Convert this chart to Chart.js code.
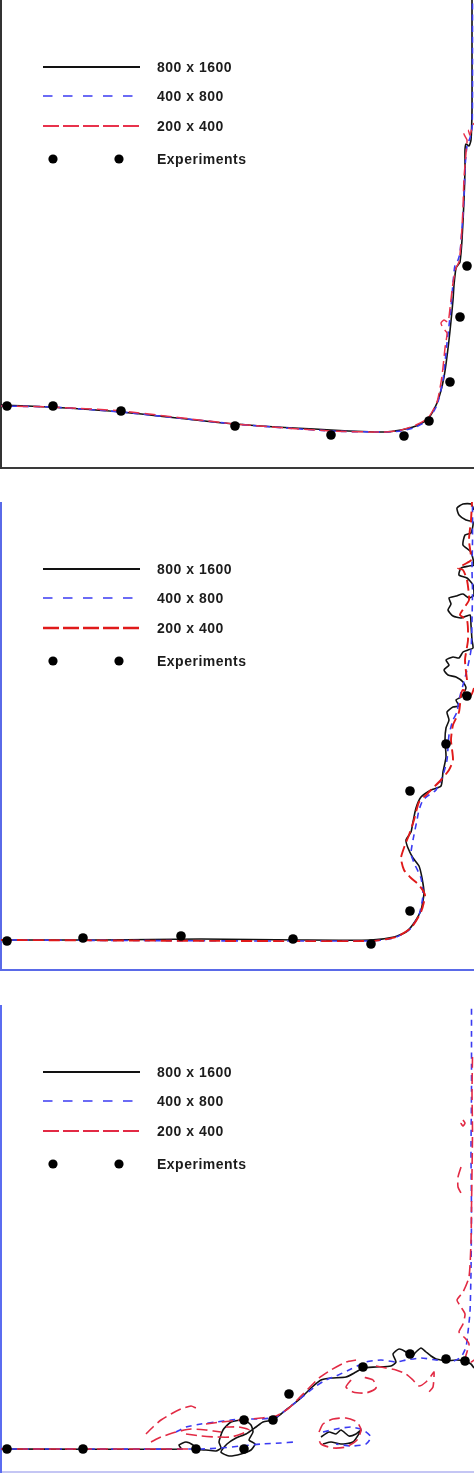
<!DOCTYPE html>
<html>
<head>
<meta charset="utf-8">
<script src="https://cdn.jsdelivr.net/npm/chart.js@4.4.1/dist/chart.umd.min.js"></script>
<style>
  body { margin: 0; background: #fff; width: 474px; height: 1473px; position: relative; overflow: hidden;
         font-family: "Liberation Sans", Arial, sans-serif; }
  .panel { position: absolute; left: 0; width: 474px; }
  .panel canvas { position: absolute; left: 0; top: 0; }
  .row { position: absolute; left: 0; height: 16px; width: 300px; }
  .row svg { position: absolute; left: 0; top: 0; }
  .row span { position: absolute; left: 157px; top: -1px; font-weight: bold; font-size: 14px; color: #1c1c1c;
              line-height: 18px; white-space: nowrap; letter-spacing: 0.5px; }
</style>
</head>
<body>
<div class="panel" id="p1" style="top:0px;height:470px"><canvas id="c1" width="474" height="470"></canvas></div>
<div class="panel" id="p2" style="top:502px;height:470px"><canvas id="c2" width="474" height="470"></canvas></div>
<div class="panel" id="p3" style="top:1005px;height:469px"><canvas id="c3" width="474" height="469"></canvas></div>
<script>
// legend entries (same in the three panels)
const legendLabels = ["800 x 1600", "400 x 800", "200 x 400", "Experiments"]

// panel 1 -- x: px from left axis, y: px above bottom axis
const p1Exp = [[6,62],[52,62],[120,57],[234,42],[330,33],[403,32],[428,47],[449,86],[459,151],[466,202]]
const p1Fine = [[0,63],[50,61],[120,56],[234,44],[330,38],[383,36],[400,38],[415,42],[427,49],[436,65],[443,91],
  [448,128],[452,168],[453,183],[455,200],[457,203],[459,206],[461,228],[463,268],[464,298],[464,318],[465,324],
  [468,322],[470,328],[471,358],[471,408],[471,468]]
const p1Medium = [[0,62],[50,61],[120,56],[234,44],[330,37],[383,36],[400,37],[415,41],[427,48],[436,63],[442,88],
  [446,125],[450,160],[452,185],[454,203],[457,208],[459,215],[461,240],[463,270],[464,300],[466,322],[469,330],
  [471,340],[471.5,370],[471.5,420],[471.5,468]]
const p1Coarse = [[0,62],[50,61],[120,57],[234,44],[330,37],[383,36],[400,38],[415,43],[427,50],[436,66],[441,92],
  [444,120],[446,135],[442,140],[440,145],[443,148],[447,146],[449,160],[452,185],[455,200],[458,206],[460,225],
  [462,260],[463,290],[465,315],[466,328],[463,334],[467,338],[469,333],[471,340],[473,345]]

// panel 2
const p2Exp = [[6,29],[82,32],[180,34],[292,31],[370,26],[409,59],[409,179],[445,226],[466,274]]
const p2Fine = [[0,30],[100,30],[200,31],[300,30],[370,30],[393,33],[405,38],[413,47],[420,60],[423,77],[421,92],
  [418,104],[412,112],[407,122],[405,130],[410,138],[412,148],[415,162],[420,173],[430,180],[440,184],[442,198],
  [445,213],[444,230],[445,242],[448,250],[446,258],[452,263],[458,264],[455,270],[460,273],[465,282],[462,288],
  [455,293],[447,295],[443,300],[448,305],[445,310],[452,313],[458,312],[462,318],[467,320],[472,322],[471,330],
  [470,345],[469,355],[460,352],[452,354],[447,360],[450,366],[448,372],[455,374],[462,376],[468,372],[473,375],
  [472,385],[466,392],[458,395],[460,402],[468,404],[473,405],[470,418],[462,425],[464,435],[470,437],[472,448],
  [465,450],[458,455],[456,462],[462,466],[470,466],[473,460]]
const p2Medium = [[0,30],[370,29],[393,32],[408,40],[418,55],[422,75],[420,92],[414,105],[410,116],[412,130],
  [416,150],[418,160],[422,170],[428,175],[435,180],[442,195],[446,210],[448,235],[452,250],[456,258],[458,270],
  [462,285],[466,300],[470,320],[471,350],[471.5,380],[471,400],[471.5,430],[471.5,468]]
const p2Coarse = [[0,30],[370,29],[395,33],[410,42],[420,58],[424,75],[418,85],[410,92],[403,100],[400,112],
  [404,125],[408,135],[413,150],[418,168],[425,175],[432,182],[440,190],[448,200],[452,210],[450,230],[452,245],
  [458,258],[460,275],[462,280],[470,275],[473,282],null,[466,290],[464,310],[467,330],[466,350],[459,355],
  [463,362],[468,370],[466,390],[462,400],[457,402],[464,406],[470,410],[468,430],[470,450],[471,468]]

// panel 3
const p3Exp = [[6,23],[82,23],[195,23],[243,23],[243,52],[272,52],[288,78],[362,105],[409,118],[445,113],[464,111]]
const p3Fine = [[0,23],[180,23],[178,27],[185,30],[192,27],[195,23],[205,22],[215,21],[220,24],[218,30],[222,42],
  [230,50],[243,52],[250,47],[252,40],[248,32],[254,28],[250,22],[240,18],[228,16],[220,20],[226,28],[235,34],
  [245,38],[255,45],[262,50],[272,52],[280,58],[290,66],[300,74],[310,84],[320,92],[330,94],[345,95],[355,100],
  [362,104],[375,105],[390,106],[395,110],[392,118],[398,123],[405,120],[410,115],[415,120],[420,124],[425,120],
  [430,116],[435,113],[440,112],[445,111],[455,112],[464,111],[470,108],[473,104],null,
  [320,35],[328,40],[335,38],[340,42],[348,36],[355,38],[360,42],[352,30],[340,28],[330,30],[322,28]]
const p3Medium = [[0,23],[200,23],[220,24],[240,26],[260,28],[280,29],[293,30],null,
  [175,40],[185,45],[200,48],[215,50],[230,52],[245,53],[260,53],[275,55],[285,62],[295,70],[305,78],[315,86],
  [325,92],[335,96],[350,103],[365,110],[380,112],[395,110],[405,112],[420,114],[435,112],[450,110],[460,115],
  [465,125],[467,140],[469,160],[470,200],[470.5,260],[470,320],[470.5,380],[470.5,440],[470.5,467],null,
  [322,40],[335,43],[350,45],[362,42],[370,35],[365,28],[350,26],[335,28]]
const p3Coarse = [[0,23],[195,23],null,
  [145,38],[152,45],[160,52],[170,58],[180,63],[190,66],[195,64],null,
  [150,30],[160,35],[175,40],[190,43],[205,42],[220,40],null,
  [185,38],[200,36],[215,35],[230,35],[240,38],[248,42],[238,45],[225,45],null,
  [205,48],[220,50],[240,52],[260,54],[275,56],[288,64],[298,74],[308,84],[318,94],[330,102],[345,110],[355,112],null,
  [350,92],[345,85],[352,80],[365,79],[375,84],[372,92],[362,95],null,
  [375,106],[385,104],[395,102],[405,98],[412,92],[418,86],[425,90],[430,96],[433,100],[432,85],[428,80],null,
  [318,40],[322,48],[332,53],[345,54],[356,50],[360,42],[356,32],[345,25],[332,24],[320,28],[317,35],null,
  [471.5,415],[471,380],[471.5,340],[471,300],[470.5,265],[470,230],[468,195],[462,180],[456,172],[460,165],[464,158],
  [462,148],[458,140],[464,134],[468,128],[466,120],[464,112],[470,110],[473,112],null,
  [462,352],[464,349],[462,346],[460,349],[462,352],null,
  [460,305],[457,295],[457,285],[460,279]]

const BLACK = "#121212"
const BLUE = "#3b3bf2"

function pts(arr) {
  let lastX = 0
  return arr.map(p => {
    if (!p) return { x: lastX, y: null }
    lastX = p[0]
    return { x: p[0], y: p[1] }
  })
}

function lineSet(label, data, color, width, dash) {
  return {
    label, data: pts(data), showLine: true, borderColor: color, borderWidth: width,
    borderDash: dash, pointRadius: 0, tension: 0.2, spanGaps: false, fill: false
  }
}

function renderPanel(id, yMax, series, style) {
  const [fine, medium, coarse, exp] = series
  new Chart(document.getElementById(id), {
    type: "scatter",
    data: {
      datasets: [
        { label: legendLabels[3], data: pts(exp), pointRadius: 4.8, pointBackgroundColor: "#000",
          pointBorderWidth: 0, showLine: false },
        lineSet(legendLabels[2], coarse, style.red, style.redWidth, [11, 5]),
        lineSet(legendLabels[1], medium, BLUE, 1.6, [6, 5]),
        lineSet(legendLabels[0], fine, BLACK, 1.6, [])
      ]
    },
    options: {
      responsive: false,
      animation: false,
      layout: { autoPadding: false, padding: { left: 1, bottom: 2, top: 0, right: 0 } },
      plugins: { legend: { display: false }, tooltip: { enabled: false } },
      scales: {
        x: {
          type: "linear", min: 0, max: 473,
          ticks: { display: false },
          grid: { display: false, drawTicks: false },
          border: { display: true, color: style.bottomAxis, width: 2 }
        },
        y: {
          min: 0, max: yMax,
          ticks: { display: false },
          grid: { display: false, drawTicks: false },
          border: { display: true, color: style.leftAxis, width: 2 }
        }
      }
    }
  })

  // legend block inside the plot area
  const panel = document.getElementById(id).parentNode
  const rowsY = [67, 96, 126, 159]
  const samples = [
    `<line x1="43" y1="8" x2="140" y2="8" stroke="${BLACK}" stroke-width="2.2"/>`,
    `<line x1="43" y1="8" x2="140" y2="8" stroke="${BLUE}" stroke-width="1.6" stroke-dasharray="9.5 10.5"/>`,
    `<line x1="43" y1="8" x2="140" y2="8" stroke="${style.red}" stroke-width="${style.redWidth + 0.6}" stroke-dasharray="16 4"/>`,
    `<circle cx="53" cy="8" r="4.6" fill="#000"/><circle cx="119" cy="8" r="4.6" fill="#000"/>`
  ]
  legendLabels.forEach((text, i) => {
    const row = document.createElement("div")
    row.className = "row"
    row.style.top = (rowsY[i] - 8) + "px"
    row.innerHTML = `<svg width="150" height="16">${samples[i]}</svg><span>${text}</span>`
    panel.appendChild(row)
  })
}

renderPanel("c1", 468, [p1Fine, p1Medium, p1Coarse, p1Exp],
  { red: "#e8324c", redWidth: 1.5, leftAxis: "#333333", bottomAxis: "#3a3a3a" })
renderPanel("c2", 468, [p2Fine, p2Medium, p2Coarse, p2Exp],
  { red: "#e01a1a", redWidth: 1.9, leftAxis: "#5a6ae8", bottomAxis: "#5a6ae8" })
renderPanel("c3", 467, [p3Fine, p3Medium, p3Coarse, p3Exp],
  { red: "#e22a44", redWidth: 1.6, leftAxis: "#5b6cf0", bottomAxis: "#c4c6f4" })
</script>
</body>
</html>
